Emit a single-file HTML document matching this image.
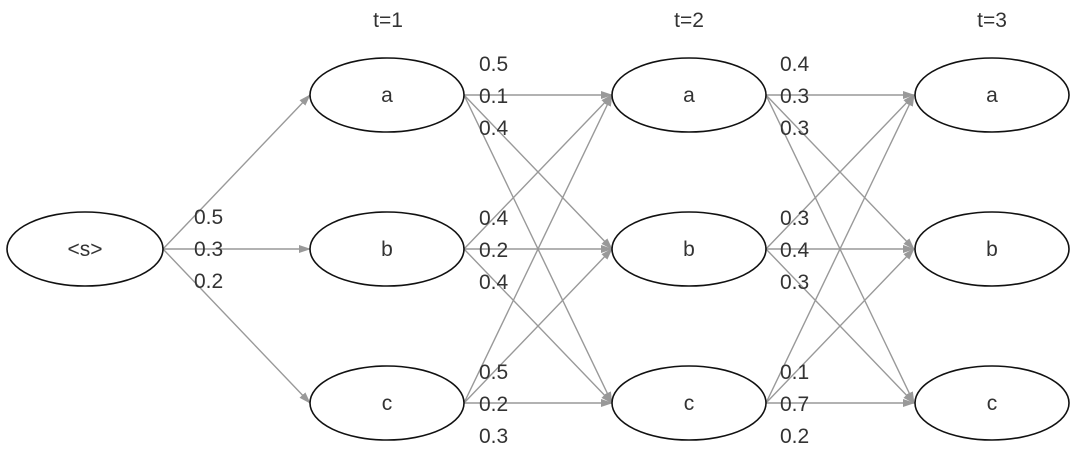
<!DOCTYPE html>
<html><head><meta charset="utf-8"><style>
html,body{margin:0;padding:0;background:#fff;}
svg{display:block}
text{font-family:"Liberation Sans","Noto Sans CJK SC",sans-serif;fill:#333;font-size:21px}
</style></head><body>
<svg width="1080" height="454" viewBox="0 0 1080 454" xmlns="http://www.w3.org/2000/svg">
<defs><marker id="ar" markerWidth="12" markerHeight="8" refX="11" refY="4" orient="auto" markerUnits="userSpaceOnUse"><path d="M0,0 L12,4 L0,8 z" fill="#999"/></marker></defs>
<g stroke="#999" stroke-width="1.4" fill="none" marker-end="url(#ar)">
<line x1="163" y1="249" x2="310" y2="95"/>
<line x1="163" y1="249" x2="310" y2="249"/>
<line x1="163" y1="249" x2="310" y2="403"/>
<!-- col1 to col2 -->
<line x1="464" y1="95" x2="612" y2="95"/>
<line x1="464" y1="95" x2="612" y2="249"/>
<line x1="464" y1="95" x2="612" y2="403"/>
<line x1="464" y1="249" x2="612" y2="95"/>
<line x1="464" y1="249" x2="612" y2="249"/>
<line x1="464" y1="249" x2="612" y2="403"/>
<line x1="464" y1="403" x2="612" y2="95"/>
<line x1="464" y1="403" x2="612" y2="249"/>
<line x1="464" y1="403" x2="612" y2="403"/>
<!-- col2 to col3 -->
<line x1="766" y1="95" x2="914" y2="95"/>
<line x1="766" y1="95" x2="914" y2="249"/>
<line x1="766" y1="95" x2="914" y2="403"/>
<line x1="766" y1="249" x2="914" y2="95"/>
<line x1="766" y1="249" x2="914" y2="249"/>
<line x1="766" y1="249" x2="914" y2="403"/>
<line x1="766" y1="403" x2="914" y2="95"/>
<line x1="766" y1="403" x2="914" y2="249"/>
<line x1="766" y1="403" x2="914" y2="403"/>
</g>
<g stroke="#111" stroke-width="1.6" fill="#fff">
<ellipse cx="85" cy="249" rx="78" ry="37"/>
<ellipse cx="387" cy="95" rx="77" ry="37"/>
<ellipse cx="387" cy="249" rx="77" ry="37"/>
<ellipse cx="387" cy="403" rx="77" ry="37"/>
<ellipse cx="689" cy="95" rx="77" ry="37"/>
<ellipse cx="689" cy="249" rx="77" ry="37"/>
<ellipse cx="689" cy="403" rx="77" ry="37"/>
<ellipse cx="992" cy="95" rx="77" ry="37"/>
<ellipse cx="992" cy="249" rx="77" ry="37"/>
<ellipse cx="992" cy="403" rx="77" ry="37"/>
</g>
<g text-anchor="middle">
<text x="85" y="256">&lt;s&gt;</text>
<text x="387" y="102">a</text><text x="387" y="256">b</text><text x="387" y="410">c</text>
<text x="689" y="102">a</text><text x="689" y="256">b</text><text x="689" y="410">c</text>
<text x="992" y="102">a</text><text x="992" y="256">b</text><text x="992" y="410">c</text>
<text x="388" y="27">t=1</text><text x="689" y="27">t=2</text><text x="992" y="27">t=3</text>
</g>
<g>
<text x="194" y="224">0.5</text><text x="194" y="256">0.3</text><text x="194" y="288">0.2</text>
<text x="479" y="71">0.5</text><text x="479" y="103">0.1</text><text x="479" y="135">0.4</text>
<text x="479" y="225">0.4</text><text x="479" y="257">0.2</text><text x="479" y="289">0.4</text>
<text x="479" y="379">0.5</text><text x="479" y="411">0.2</text><text x="479" y="443">0.3</text>
<text x="780" y="71">0.4</text><text x="780" y="103">0.3</text><text x="780" y="135">0.3</text>
<text x="780" y="225">0.3</text><text x="780" y="257">0.4</text><text x="780" y="289">0.3</text>
<text x="780" y="379">0.1</text><text x="780" y="411">0.7</text><text x="780" y="443">0.2</text>
</g>
</svg>
</body></html>
